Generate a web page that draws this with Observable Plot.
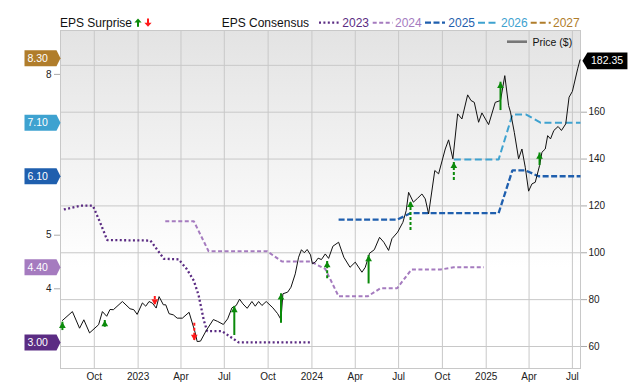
<!DOCTYPE html>
<html><head><meta charset="utf-8">
<script src="https://cdn.jsdelivr.net/npm/d3@7"></script>
<script src="https://cdn.jsdelivr.net/npm/@observablehq/plot@0.6"></script>
<style>
body{margin:0;background:#fff;}
#wrap{position:relative;width:640px;height:382px;}
#wrap svg{position:absolute;left:0;top:0;}
</style></head><body><div id="wrap"></div>
<script>
// ---------- DATA ----------
const priceDates = ["2022-07-26","2022-08-16","2022-08-31","2022-09-09","2022-09-21","2022-10-10","2022-10-18","2022-10-27","2022-11-03","2022-11-10","2022-11-29","2022-12-15","2022-12-23","2022-12-30","2023-01-10","2023-01-17","2023-01-24","2023-01-31","2023-02-08","2023-02-14","2023-02-23","2023-02-28","2023-03-07","2023-03-16","2023-03-24","2023-04-04","2023-04-18","2023-05-01","2023-05-05","2023-05-12","2023-05-24","2023-06-08","2023-06-17","2023-06-29","2023-07-08","2023-07-17","2023-07-26","2023-08-02","2023-08-09","2023-08-18","2023-08-28","2023-09-04","2023-09-11","2023-09-18","2023-09-27","2023-10-11","2023-10-21","2023-10-28","2023-11-01","2023-11-11","2023-11-18","2023-11-27","2023-12-04","2023-12-10","2023-12-16","2023-12-22","2023-12-29","2024-01-02","2024-01-08","2024-01-14","2024-01-21","2024-01-29","2024-02-05","2024-02-14","2024-02-26","2024-03-08","2024-03-21","2024-04-01","2024-04-15","2024-04-22","2024-05-01","2024-05-11","2024-05-22","2024-05-31","2024-06-10","2024-06-17","2024-06-29","2024-07-10","2024-07-17","2024-07-22","2024-08-01","2024-08-10","2024-08-19","2024-08-26","2024-09-02","2024-09-15","2024-09-23","2024-10-07","2024-10-14","2024-10-23","2024-11-02","2024-11-11","2024-11-23","2024-11-30","2024-12-07","2024-12-16","2024-12-23","2025-01-06","2025-01-20","2025-01-31","2025-02-09","2025-02-17","2025-02-21","2025-03-01","2025-03-10","2025-03-17","2025-03-24","2025-03-31","2025-04-07","2025-04-14","2025-04-23","2025-04-28","2025-05-05","2025-05-10","2025-05-16","2025-05-23","2025-06-01","2025-06-08","2025-06-17","2025-06-24","2025-07-01","2025-07-12","2025-07-17"];
const priceValues = [71.1,74.9,67.8,71.4,65.8,69.3,74.9,72.9,75.8,75.7,79.2,76.1,75.7,73.7,78.6,77.2,79.2,78.5,76.4,81.3,77.8,77.8,74.0,73.5,72.1,72.1,74.6,65.8,62.1,62.3,66.8,71.5,70.7,69.4,71.8,76.5,77.5,80.2,78.2,76.3,79.2,77.2,79.2,77.5,79.2,76.5,74.0,71.5,82.5,83.2,85.3,91.0,98.1,101.3,100.0,101.4,99.1,95.3,96.0,97.7,97.1,99.5,97.6,102.8,104.5,98.1,93.8,96.0,91.7,93.8,99.8,101.3,106.6,104.5,101.0,106.0,108.8,113.0,118.0,125.8,121.6,123.3,125.1,123.0,116.6,135.1,133.7,144.3,148.2,140.1,159.3,157.1,167.4,165.0,164.2,155.7,159.7,154.7,164.2,165.0,175.6,162.8,160.0,151.4,140.1,144.3,136.5,126.3,129.4,130.1,137.2,142.9,144.3,150.0,148.6,152.2,153.9,152.2,155.0,166.4,168.9,178.5,182.35];

const e2023Dates = ["2022-07-29","2022-09-02","2022-09-28","2022-10-14","2022-10-28","2023-01-27","2023-02-24","2023-03-27","2023-04-13","2023-04-28","2023-05-08","2023-05-19","2023-05-26","2023-06-26","2023-07-31","2023-12-29"];
const e2023Values = [5.48,5.55,5.55,5.22,4.91,4.90,4.56,4.55,4.37,4.15,3.88,3.41,3.21,3.21,3.00,3.00];
const e2024Dates = ["2023-02-27","2023-04-28","2023-05-29","2023-09-29","2023-10-30","2023-12-29","2024-01-29","2024-02-26","2024-04-27","2024-05-24","2024-06-28","2024-07-28","2024-09-27","2024-10-25","2024-12-27"];
const e2024Values = [5.26,5.26,4.70,4.70,4.51,4.51,4.37,3.86,3.86,4.01,4.01,4.36,4.36,4.40,4.40];
const e2025Dates = ["2024-02-26","2024-06-28","2024-07-26","2025-01-27","2025-02-25","2025-03-24","2025-04-21","2025-07-18"];
const e2025Values = [5.29,5.29,5.41,5.41,6.21,6.21,6.10,6.10];
const e2026Dates = ["2024-10-25","2025-01-27","2025-02-25","2025-03-26","2025-04-25","2025-07-18"];
const e2026Values = [6.41,6.41,7.25,7.25,7.10,7.10];

const badgeYears = ["2027","2026","2025","2024","2023"];
const badgeValues = [8.30,7.10,6.10,4.40,3.00];

const arrowDates = ["2022-07-26","2022-10-23","2023-02-05","2023-04-29","2023-07-22","2023-10-28","2024-02-02","2024-04-29","2024-07-26","2024-10-25","2025-01-31","2025-04-23"];
const arrowFrom = [66.8,68.2,81.3,69.9,64.7,69.9,88.9,86.7,109.5,130.8,160.7,137.2];
const arrowTo   = [70.4,71.1,77.7,62.6,77.1,82.5,96.3,98.8,122.0,138.6,172.8,142.6];
const arrowDashed = [false,false,true,true,false,false,true,false,true,true,false,false];

const legendYears = ["2023","2024","2025","2026","2027"];
const priceTicks = [60,80,100,120,140,160];
const priceGrid = [60,80,100,120,140,160,180];
const epsTicks = [4,5,8];

// ---------- STYLE ----------
const FONT = '"Liberation Sans", Arial, Helvetica, sans-serif';
const colors = {"2023":"#5b2c83","2024":"#a57bbf","2025":"#1f5fae","2026":"#3ea2d0","2027":"#b07d2b"};
const dashes = {"2023":"2,2.4","2024":"4,2.5","2025":"6,2.5","2026":"7,3.5","2027":"6,3"};
const widths = {"2023":2.3,"2024":2,"2025":2.3,"2026":2,"2027":2};
const GREEN = "#0a8a0a", RED = "#ff1a1a", GRID = "#c8c8c8";

const parse = s => new Date(s);
const price = priceDates.map((d,i)=>({date:parse(d), value:priceValues[i]}));
const lastPrice = price[price.length-1];
const mkSeries = (year, ds, vs) => ds.map((d,i)=>({year, date:parse(d), value:vs[i]}));
const eps = [
  ...mkSeries("2023", e2023Dates, e2023Values),
  ...mkSeries("2024", e2024Dates, e2024Values),
  ...mkSeries("2025", e2025Dates, e2025Values),
  ...mkSeries("2026", e2026Dates, e2026Values)
];
const badges = badgeYears.map((y,i)=>({year:y, value:badgeValues[i], color:colors[y]}));
const arrows = arrowDates.map((d,i)=>({date:parse(d), from:arrowFrom[i], to:arrowTo[i], dashed:arrowDashed[i], up:arrowTo[i]>arrowFrom[i]}));

const quarterTicks = d3.utcMonth.every(3).range(new Date("2022-10-01"), new Date("2025-07-02"));
const fmtX = d => d.getUTCMonth()===0 ? String(d.getUTCFullYear()) : d3.utcFormat("%b")(d);

const common = {width:640, height:382, marginTop:30, marginBottom:14, marginLeft:60, marginRight:60,
  style:{fontFamily:FONT, fontSize:"10px", color:"#222", background:"transparent", overflow:"visible"}};
const xOpt = {type:"utc", domain:[new Date("2022-07-22"), new Date("2025-07-18")], label:null};
const priceY = {domain:[50.61,194.87], label:null};
const epsY = {domain:[2.513,8.819], label:null};

// ---------- CHART A: background, grid, axes ----------
const chartA = Plot.plot({...common, x:xOpt, y:priceY, marks:[
  Plot.frame({fill:"url(#bgGrad)", stroke:"none"}),
  Plot.gridX(quarterTicks, {stroke:GRID, strokeOpacity:1}),
  Plot.gridY(priceGrid, {stroke:GRID, strokeOpacity:1}),
  Plot.frame({stroke:GRID}),
  Plot.axisX(quarterTicks, {tickSize:0, tickPadding:4, tickFormat:fmtX, label:null, fill:"#222"}),
  Plot.axisY(priceTicks, {anchor:"right", tickSize:6, tickPadding:2, label:null, stroke:"#aaa", fill:"#222"})
]});
d3.select(chartA).insert("defs", ":first-child").html(
  '<linearGradient id="bgGrad" x1="0" y1="0" x2="0" y2="1"><stop offset="0" stop-color="#e3e3e3"/><stop offset="0.7" stop-color="#ffffff"/></linearGradient>');

// ---------- CHART B: EPS consensus (left axis) ----------
const epsTag = {draw(ctx){ ctx.moveTo(-16,-8); ctx.lineTo(16,-8); ctx.lineTo(20,0); ctx.lineTo(16,8); ctx.lineTo(-16,8); ctx.closePath(); }};
const chartB = Plot.plot({...common, x:{...xOpt, axis:null}, y:epsY, marks:[
  Plot.axisY(epsTicks, {anchor:"left", tickSize:6, tickPadding:3, label:null, tickFormat:d=>String(d), stroke:"#aaa", fill:"#222"}),
  ...["2023","2024","2025","2026"].map(yr =>
    Plot.line(eps.filter(d=>d.year===yr), {x:"date", y:"value", stroke:colors[yr], strokeWidth:widths[yr], strokeDasharray:dashes[yr], strokeLinecap:"butt", strokeLinejoin:"miter"})),
  Plot.dot(badges, {y:"value", frameAnchor:"left", dx:-20, symbol:epsTag, fill:"color", stroke:"none"}),
  Plot.text(badges, {y:"value", frameAnchor:"left", dx:-33, textAnchor:"start", text:d=>d.value.toFixed(2), fill:"white", fontSize:10.5})
]});

// ---------- CHART C: price line, surprises, price tag ----------
const priceTag = {draw(ctx){ ctx.moveTo(-22,0); ctx.lineTo(-17,-8.3); ctx.lineTo(23,-8.3); ctx.lineTo(23,8.3); ctx.lineTo(-17,8.3); ctx.closePath(); }};
const chartC = Plot.plot({...common, x:{...xOpt, axis:null}, y:{...priceY, axis:null}, marks:[
  Plot.line(price, {x:"date", y:"value", stroke:"#111", strokeWidth:1}),
  Plot.ruleX(arrows.filter(d=>!d.dashed), {x:"date", y1:"from", y2:"to", stroke:d=>d.up?GREEN:RED, strokeWidth:2}),
  Plot.ruleX(arrows.filter(d=>d.dashed), {x:"date", y1:"from", y2:"to", stroke:d=>d.up?GREEN:RED, strokeWidth:2, strokeDasharray:"3,2"}),
  Plot.dot(arrows.filter(d=>d.up), {x:"date", y:"to", symbol:"triangle", r:2.5, fill:GREEN, stroke:"none", dy:3.8}),
  Plot.dot(arrows.filter(d=>!d.up), {x:"date", y:"to", symbol:"triangle", r:2.5, fill:RED, stroke:"none", rotate:180, dy:-3.8}),
  Plot.dot([lastPrice], {x:"date", y:"value", symbol:priceTag, fill:"#000", stroke:"none", dx:24.4, dy:1}),
  Plot.text([lastPrice], {x:"date", y:"value", text:d=>d.value.toFixed(2), dx:27, dy:1, fill:"#fff", fontSize:10.5})
]});

// ---------- LEGEND overlay ----------
const leg = d3.create("svg").attr("width",640).attr("height",382).attr("font-family",FONT);
leg.append("text").attr("x",60).attr("y",27).attr("font-size",12).attr("fill","#111").text("EPS Surprise");
const arrowIcon = (g, cx, up, color) => {
  const a = g.append("g").attr("fill",color);
  if (up) {
    a.append("path").attr("d",`M${cx},18.5 L${cx+3.6},22.5 L${cx-3.6},22.5 Z`);
    a.append("rect").attr("x",cx-1).attr("y",22).attr("width",2).attr("height",4.8);
  } else {
    a.append("rect").attr("x",cx-1).attr("y",18.5).attr("width",2).attr("height",4.8);
    a.append("path").attr("d",`M${cx},26.8 L${cx+3.6},22.8 L${cx-3.6},22.8 Z`);
  }
};
arrowIcon(leg, 138, true, GREEN);
arrowIcon(leg, 148, false, RED);
leg.append("text").attr("x",221.7).attr("y",27).attr("font-size",12).attr("fill","#111").text("EPS Consensus");
const sampleX = [319, 372.7, 425, 478, 530.7];
const textX = [342.3, 395, 448.3, 501, 553];
legendYears.forEach((yr,i)=>{
  leg.append("line").attr("x1",sampleX[i]).attr("x2",sampleX[i]+20).attr("y1",22.7).attr("y2",22.7)
    .attr("stroke",colors[yr]).attr("stroke-width",widths[yr]).attr("stroke-dasharray",dashes[yr]);
  leg.append("text").attr("x",textX[i]).attr("y",27).attr("font-size",12).attr("fill",colors[yr]).text(yr);
});
leg.append("line").attr("x1",507).attr("x2",527).attr("y1",41.7).attr("y2",41.7).attr("stroke","#777").attr("stroke-width",2.6);
leg.append("text").attr("x",532.5).attr("y",45.5).attr("font-size",10.5).attr("fill","#111").text("Price ($)");

const wrap = document.getElementById("wrap");
wrap.append(chartA, chartB, chartC, leg.node());
</script>
</body></html>
